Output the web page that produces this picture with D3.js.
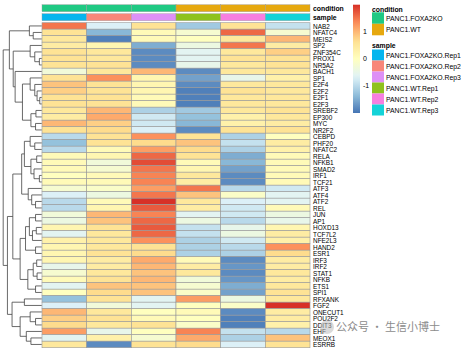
<!DOCTYPE html>
<html>
<head>
<meta charset="utf-8">
<script src="https://cdn.jsdelivr.net/npm/d3@7"></script>
<style>
body { margin: 0; background: #fff; }
text { font-family: "Liberation Sans", Arial, sans-serif; fill: #000; }
</style>
</head>
<body>
<div id="chart"></div>
<script>
// row names (in dendrogram order)
var genes = ["NAB2","NFATC4","MEIS2","SP2","ZNF354C","PROX1","NR5A2","BACH1","SP1","E2F4",
  "E2F2","E2F1","E2F3","SREBF2","EP300","MYC","NR2F2","CEBPD","PHF20","NFATC2",
  "RELA","NFKB1","SMAD2","IRF1","TCF21","ATF3","ATF4","ATF2","REL","JUN",
  "AP1","HOXD13","TCF7L2","NFE2L3","HAND2","ESR1","IRF3","IRF2","STAT1","NFKB",
  "ETS1","SPI1","RFXANK","FGF2","ONECUT1","POU2F2","DDIT3","EHF","MEOX1","ESRRB"];

var samples = ["PANC1.FOXA2KO.Rep1","PANC1.FOXA2KO.Rep2","PANC1.FOXA2KO.Rep3",
  "PANC1.WT.Rep1","PANC1.WT.Rep2","PANC1.WT.Rep3"];
var conditions = ["PANC1.FOXA2KO","PANC1.WT"];
var sampleCondition = ["PANC1.FOXA2KO","PANC1.FOXA2KO","PANC1.FOXA2KO","PANC1.WT","PANC1.WT","PANC1.WT"];
var conditionColors = ["#1fc983","#e6a80e"];
var sampleColors = ["#05b5ee","#f8877a","#de90f6","#8fc21e","#f77fe0","#14d3d8"];

// row-scaled values, one array per sample
var ko1 = [1.5,0.6,0.5,0.4,0.6,0.6,0.6,-0.3,0.6,0.9, 0.8,0.6,0.6,0.5,0.4,1.0,0.6,-1.0,-1.3,-1.0,
  0.1,0.1,0.1,0.0,0.1,-0.2,-0.7,-1.0,-1.0,-0.3, -0.4,0.2,-0.6,0.3,0.2,0.2,0.2,-0.5,-0.2,0.1,
  -0.6,0.0,-1.3,-0.7,1.0,0.8,0.7,1.2,-0.6,0.5];
var ko2 = [-0.7,-1.4,-1.9,0.2,0.5,0.5,0.6,0.5,1.3,0.6, 0.6,0.6,0.6,1.0,1.1,0.8,0.7,0.6,0.6,0.1,
  0.2,-0.3,-0.2,0.1,0.1,-0.1,-0.4,0.1,0.2,1.0, 0.9,0.6,0.5,0.5,0.5,0.6,0.4,0.4,0.5,0.6,
  0.9,0.7,0.6,-0.3,0.5,0.6,0.5,-0.5,0.3,-1.8];
var ko3 = [0.6,0.1,0.1,-1.5,-1.8,-1.8,-1.8,1.0,0.2,0.2, 0.2,0.1,0.1,-1.1,-0.8,-0.8,-0.7,1.3,0.7,1.2,
  1.6,1.8,1.5,1.4,1.4,1.2,1.5,2.0,1.7,1.4, 1.6,1.7,1.6,1.3,0.6,0.7,1.1,1.0,0.9,1.0,
  0.9,0.9,-0.6,-0.6,0.0,0.1,0.6,0.0,-0.2,0.6];
var wt1 = [-1.2,-0.2,0.0,-0.4,-0.6,-0.6,-0.5,-1.8,-1.6,-1.8, -1.9,-1.9,-1.9,-1.2,-1.3,-1.4,-1.8,0.6,0.9,0.7,
  0.6,0.1,0.2,0.5,0.4,1.5,0.9,0.5,0.4,-0.6, -0.4,-0.9,-0.9,-1.1,-1.1,-1.1,0.1,0.4,0.5,-0.3,
  -0.2,-0.1,1.2,0.0,0.1,0.0,-0.1,1.4,1.1,0.7];
var wt2 = [0.6,1.6,0.5,1.5,0.5,0.6,0.5,0.5,-0.5,0.5, 0.6,0.5,0.5,0.5,0.3,0.3,0.6,-1.1,-0.9,-1.1,
  -1.5,-1.4,-1.6,-1.8,-1.8,-1.0,-0.1,-0.7,-0.8,-0.8, -1.0,-0.5,-0.4,-0.8,-1.0,-1.1,-1.8,-1.7,-1.8,-1.7,
  -1.5,-1.6,-0.4,-0.1,-1.8,-1.9,-1.9,-0.9,-1.1,-0.7];
var wt3 = [-0.9,-0.2,1.0,0.4,0.8,0.6,0.6,0.5,0.3,0.5, 0.5,0.5,0.5,0.6,0.5,0.4,0.6,0.0,0.4,0.3,
  0.1,0.1,0.1,0.1,0.1,-0.8,-0.6,-0.6,0.1,-0.4, -0.5,0.2,0.4,0.3,1.3,0.7,0.4,0.4,0.5,0.4,
  0.5,0.6,0.5,2.0,0.4,0.4,0.3,-1.0,0.9,0.6];
var columns = [ko1, ko2, ko3, wt1, wt2, wt3];

var legendTicks = [-1, 0, 1];
var palette = ["#4575B4","#91BFDB","#E0F3F8","#FFFFBF","#FEE090","#FC8D59","#D73027"];

// row dendrogram: [merge height, left, right]
var rowTree = [10,
  [8.4,
    [3.2, "NAB2", [2.2, "NFATC4", "MEIS2"]],
    [7.4,
      [3.0, "SP2", [1.8, "ZNF354C", [0.6, "PROX1", "NR5A2"]]],
      [6.9, "BACH1",
        [5.0,
          [3.0, "SP1", [1.8, "E2F4", [1.2, "E2F2", [0.5, "E2F1", "E2F3"]]]],
          [2.8, [1.5, "SREBF2", "EP300"], [1.6, "MYC", "NR2F2"]]]]]],
  [8.9,
    [7.5,
      [5.2,
        [4.5, [3.0, "CEBPD", [1.8, "PHF20", "NFATC2"]],
              [2.8, [1.3, "RELA", "NFKB1"], [2.0, "SMAD2", [0.6, "IRF1", "TCF21"]]]],
        [3.5, "ATF3", [2.6, "ATF4", [1.6, "ATF2", "REL"]]]],
      [5.6,
        [4.2, [3.2, [1.6, "JUN", "AP1"], [2.4, [1.4, "HOXD13", "TCF7L2"], "NFE2L3"]],
              [1.6, "HAND2", "ESR1"]],
        [3.6, [2.2, [1.3, "IRF3", "IRF2"], [1.2, "STAT1", "NFKB"]], [1.6, "ETS1", "SPI1"]]]],
    [7.7,
      [4.5, "RFXANK", "FGF2"],
      [5.6, [3.0, "ONECUT1", [1.6, "POU2F2", "DDIT3"]],
            [4.0, "EHF", [2.8, "MEOX1", "ESRRB"]]]]]];

var W = 474, H = 350;
var svg = d3.select("#chart").append("svg")
  .attr("width", W).attr("height", H)
  .style("background", "#fff");

var x = d3.scaleBand().domain(samples).range([42, 310]);
var y = d3.scaleBand().domain(genes).range([22.7, 347.7]);
var color = d3.scaleLinear()
  .domain(d3.range(7).map(function(i) { return -2 + i * 4 / 6; }))
  .range(palette).clamp(true);

// heatmap cells
var cells = [];
columns.forEach(function(col, j) {
  col.forEach(function(v, i) { cells.push({s: samples[j], g: genes[i], v: v}); });
});
svg.append("g").selectAll("rect").data(cells).join("rect")
  .attr("x", function(d) { return x(d.s); })
  .attr("y", function(d) { return y(d.g); })
  .attr("width", x.bandwidth())
  .attr("height", y.bandwidth())
  .attr("fill", function(d) { return color(d.v); })
  .attr("stroke", "#999").attr("stroke-width", 0.6);

// column annotations
var annot = svg.append("g");
annot.selectAll("rect.cond").data(samples).join("rect")
  .attr("class", "cond")
  .attr("x", function(d) { return x(d); }).attr("y", 4.7)
  .attr("width", x.bandwidth()).attr("height", 7)
  .attr("fill", function(d, i) { return conditionColors[conditions.indexOf(sampleCondition[i])]; })
  .attr("stroke", "#999").attr("stroke-width", 0.4);
annot.selectAll("rect.samp").data(samples).join("rect")
  .attr("class", "samp")
  .attr("x", function(d) { return x(d); }).attr("y", 13.7)
  .attr("width", x.bandwidth()).attr("height", 7)
  .attr("fill", function(d, i) { return sampleColors[i]; })
  .attr("stroke", "#999").attr("stroke-width", 0.4);

function squeezed(g, tx, ty, str, bold, size) {
  return g.append("text")
    .attr("transform", "translate(" + tx + "," + ty + ") scale(0.88,1)")
    .attr("dy", "0.35em")
    .style("font-size", (size || 7.8) + "px")
    .style("font-weight", bold ? "bold" : "normal")
    .text(str);
}
squeezed(svg, 313, 8.4, "condition", true);
squeezed(svg, 313, 17.4, "sample", true);

// row labels
genes.forEach(function(g) {
  squeezed(svg, 313, y(g) + y.bandwidth() / 2, g, false, 7.3);
});

// dendrogram
var root = d3.hierarchy(rowTree, function(d) { return Array.isArray(d) ? d.slice(1) : null; });
var hx = d3.scaleLinear().domain([0, rowTree[0]]).range([41.7, 3.2]);
root.eachAfter(function(n) {
  if (n.children) {
    n.ly = (n.children[0].ly + n.children[1].ly) / 2;
    n.lx = hx(n.data[0]);
  } else {
    n.ly = y(n.data) + y.bandwidth() / 2;
    n.lx = hx(0);
  }
});
var dend = svg.append("g").attr("fill", "none").attr("stroke", "#444").attr("stroke-width", 0.8);
root.descendants().filter(function(n) { return n.children; }).forEach(function(n) {
  var a = n.children[0], b = n.children[1];
  dend.append("path").attr("d",
    "M" + a.lx + "," + a.ly + "H" + n.lx + "V" + b.ly + "H" + b.lx);
});

// colour legend
var defs = svg.append("defs");
var grad = defs.append("linearGradient").attr("id", "scaleGrad")
  .attr("x1", 0).attr("y1", 1).attr("x2", 0).attr("y2", 0);
d3.range(0, 1.0001, 0.05).forEach(function(t) {
  grad.append("stop").attr("offset", t).attr("stop-color", color(-2 + 4 * t));
});
var ly = d3.scaleLinear().domain([-2, 2]).range([113, 4.7]);
svg.append("rect").attr("x", 353).attr("y", ly(2))
  .attr("width", 7).attr("height", ly(-2) - ly(2))
  .attr("fill", "url(#scaleGrad)");
svg.selectAll("text.tick").data(legendTicks).join("text")
  .attr("class", "tick")
  .attr("x", 363).attr("y", function(d) { return ly(d); })
  .attr("dy", "0.35em")
  .style("font-size", "7px")
  .text(function(d) { return d; });

// annotation legend
var leg = svg.append("g");
squeezed(leg, 372, 8.8, "condition", true);
conditions.forEach(function(c, i) {
  leg.append("rect").attr("x", 372).attr("y", 12.3 + i * 11.5)
    .attr("width", 12).attr("height", 11.5).attr("fill", conditionColors[i]);
  squeezed(leg, 386, 18.2 + i * 11.5, c, false);
});
squeezed(leg, 372, 45, "sample", true);
samples.forEach(function(s, i) {
  leg.append("rect").attr("x", 372).attr("y", 49.5 + i * 11)
    .attr("width", 12).attr("height", 11).attr("fill", sampleColors[i]);
  squeezed(leg, 386, 55 + i * 11, s, false);
});

// watermark
svg.append("circle").attr("cx", 327).attr("cy", 327).attr("r", 7)
  .attr("fill", "#bbb").attr("opacity", 0.55);
svg.append("text").attr("x", 336).attr("y", 331)
  .style("font-family", "'Noto Sans CJK SC', sans-serif")
  .style("font-size", "11px")
  .style("fill", "#8c8c8c")
  .text("公众号 · 生信小博士");
</script>
</body>
</html>
